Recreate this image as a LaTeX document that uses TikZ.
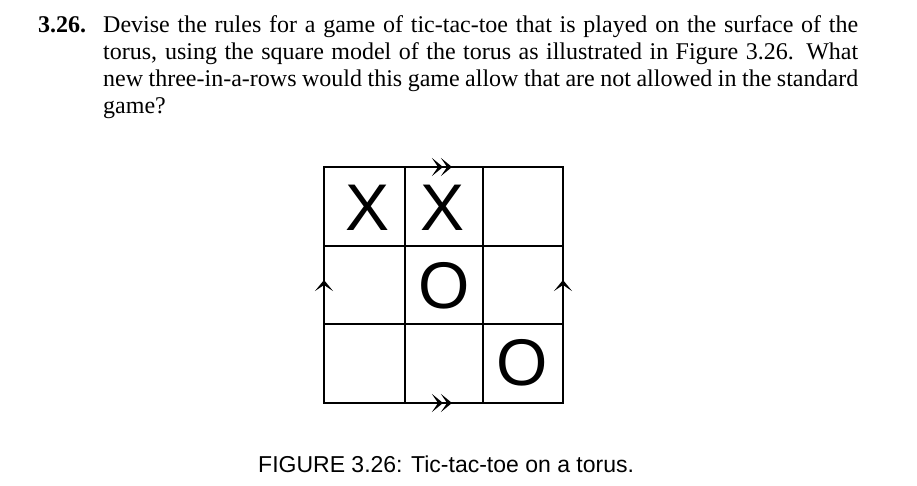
\documentclass[tikz,border=0pt]{standalone}
\usepackage{fontspec}
\setmainfont{Liberation Serif}
\newfontfamily\capfont{Liberation Sans}
\usetikzlibrary{decorations.markings,arrows.meta}
\begin{document}
\begin{tikzpicture}[x=1pt,y=-1pt,
  txt/.style={anchor=base west,inner sep=0pt,font=\fontsize{24}{28}\selectfont},
  xo/.style={font=\capfont\fontsize{66}{66}\selectfont,inner sep=0pt},
  gridline/.style={line width=1.6pt},
  tip/.style={line width=1.4pt,-{Stealth[length=11pt,width=18pt,inset=6pt]}}]
\useasboundingbox (0,0) rectangle (917,486);
\node[txt] (n) at (38,33) {\textbf{3.26.}};
\node[txt] (l1) at (103,33) {\makebox[755pt][s]{Devise the rules for a game of tic-tac-toe that is played on the surface of the}};
\node[txt] (l2) at (103,60) {\makebox[755pt][s]{torus, using the square model of the torus as illustrated in Figure 3.26. What}};
\node[txt] (l3) at (103,87) {\makebox[755pt][s]{new three-in-a-rows would this game allow that are not allowed in the standard}};
\node[txt] (l4) at (103,114) {game?};
% grid
\coordinate (a) at (324,167); \coordinate (b) at (563,167);
\coordinate (c) at (563,403); \coordinate (d) at (324,403);
\draw[gridline] (a) rectangle (c);
\draw[gridline] (405,167) -- (405,403) (483,167) -- (483,403)
  (324,246) -- (563,246) (324,324) -- (563,324);
% arrows
\draw[tip] (425,167) -- (443,167);
\draw[tip] (425,167) -- (452,167);
\draw[tip] (425,403) -- (443,403);
\draw[tip] (425,403) -- (452,403);
\draw[tip] (324,300) -- (324,280);
\draw[tip] (563,300) -- (563,280);
\node[xo] (x1) at (368,208) {X};
\node[xo] (x2) at (443,208) {X};
\node[xo] (o1) at (444,286) {O};
\node[xo] (o2) at (522,363) {O};
\node[anchor=base west,inner sep=0pt,font=\capfont\fontsize{23}{27}\selectfont] (cap) at (258,472) {FIGURE 3.26: Tic-tac-toe on a torus.};
\end{tikzpicture}
\end{document}
